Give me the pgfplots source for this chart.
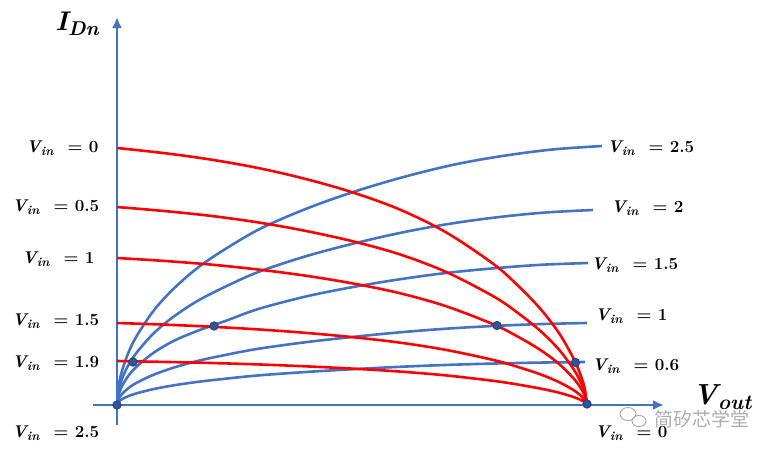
\documentclass[border=0pt]{standalone}
\usepackage{pgfplots}
\pgfplotsset{compat=1.18}
\usetikzlibrary{arrows.meta}
\usepackage{fontspec}
\newfontfamily\cjk{Noto Sans CJK SC}
\definecolor{cblue}{HTML}{4472C4}
\definecolor{cred}{HTML}{FF0000}
\definecolor{dotblue}{HTML}{2F5597}
\definecolor{dotedge}{HTML}{22407A}
\newcommand{\vl}[1]{{\fontsize{17}{19}\selectfont\bfseries\itshape V\raisebox{-0.42ex}{\fontsize{12.5}{13}\selectfont in}\ \ \upshape= #1}}
\begin{document}
\begin{tikzpicture}
\begin{axis}[width=773pt,height=450pt,scale only axis,
  xmin=0,xmax=773,ymin=0,ymax=450,y dir=reverse,
  hide axis, clip=false]
\path (axis cs:0,0) rectangle (axis cs:773,450);
% axes
\addplot[cblue, line width=2.8pt, -{Latex[length=11pt,width=10pt]}] coordinates {(117,425) (117,17)};
\addplot[cblue, line width=2.8pt, -{Latex[length=11pt,width=10pt]}] coordinates {(93,405) (664,405)};
% blue (NMOS) curves
\addplot[cblue, line width=2.6pt, smooth, tension=0.55] coordinates {(117,405) (119.4,381.7) (124.3,363.6) (131.6,345.4) (141.3,328.6) (155.8,307.9) (175.2,287.2) (199.5,266.4) (228.6,247.0) (262.5,227.6) (311,206.9) (359.5,190.0) (408,175.8) (456.5,164.1) (505,155.6) (553.5,149.4) (602,146)};
\addplot[cblue, line width=2.6pt, smooth, tension=0.55] coordinates {(117,405) (119.4,387.5) (124.1,373.8) (131.3,360.2) (140.8,347.5) (155.1,331.9) (174.1,316.3) (197.9,300.7) (226.5,286.1) (259.8,271.4) (307.4,255.8) (355,243.2) (402.6,232.4) (450.2,223.7) (497.8,217.2) (545.4,212.5) (593,210)};
\addplot[cblue, line width=2.6pt, smooth, tension=0.55] coordinates {(117,405) (119.4,392.2) (124.1,382.3) (131.1,372.3) (140.6,363.1) (154.7,352.0) (173.5,341.0) (197.1,331.0) (225.3,321.0) (258.3,309.0) (305.4,296.6) (352.5,287.1) (399.6,279.3) (446.7,272.9) (493.8,268.3) (540.9,264.8) (588,263)};
\addplot[cblue, line width=2.6pt, smooth, tension=0.55] coordinates {(117,405) (119.35,397.6) (124.05,391.9) (131.1,386.1) (140.5,380.8) (154.6,374.3) (173.4,367.7) (196.9,361.1) (225.1,355.0) (258,348.8) (305,342.3) (352,337.0) (399,332.4) (446,328.7) (493,326.0) (540,324.1) (587,323)};
\addplot[cblue, line width=2.6pt, smooth, tension=0.55] coordinates {(117,405) (119.3,401.1) (124,398.1) (131,395.1) (140.4,392.3) (154.4,388.9) (173.2,385.4) (196.6,382.0) (224.6,378.8) (257.4,375.5) (304.2,372.1) (351,369.3) (397.8,366.9) (444.6,365.0) (491.4,363.6) (538.2,362.6) (585,362)};
% red (PMOS) curves
\addplot[cred, line width=2.6pt, smooth, tension=0.55] coordinates {(117,148) (164,153.1) (211,159.6) (258,168.0) (305,178.8) (352,192.2) (399,209.2) (446,232.3) (493,263.65) (516.5,284.2) (540,308.4) (558.8,332.8) (572.9,357.2) (580,373.4) (584.65,388.3) (587,405)};
\addplot[cred, line width=2.6pt, smooth, tension=0.55] coordinates {(117,207) (164,211.0) (211,215.9) (258,222.4) (305,230.8) (352,241.1) (399,254.1) (446,271.9) (493,296.1) (516.5,311.9) (540,330.6) (558.8,349.4) (572.9,368.2) (580,380.6) (584.65,392.1) (587,405)};
\addplot[cred, line width=2.6pt, smooth, tension=0.55] coordinates {(117,258) (164,260.9) (211,264.6) (258,269.5) (305,275.6) (352,283.3) (399,293.0) (446,306.2) (493,324.15) (516.5,335.9) (540,349.7) (558.8,363.7) (572.9,377.7) (580,386.9) (584.65,395.4) (587,405)};
\addplot[cred, line width=2.6pt, smooth, tension=0.55] coordinates {(117,323) (164,324.6) (211,326.7) (258,329.4) (305,332.8) (352,337.1) (399,342.5) (446,349.9) (493,359.9) (516.5,366.5) (540,374.2) (558.8,382.0) (572.9,389.7) (580,394.9) (584.65,399.7) (587,405)};
\addplot[cred, line width=2.6pt, smooth, tension=0.55] coordinates {(117,361) (164,361.9) (211,363.0) (258,364.4) (305,366.3) (352,368.6) (399,371.5) (446,375.4) (493,380.8) (516.5,384.3) (540,388.5) (558.8,392.6) (572.9,396.8) (580,399.6) (584.65,402.1) (587,405)};
% dots
\addplot[only marks, mark=*, mark size=4.2pt, mark options={fill=dotblue, draw=dotedge, line width=0.8pt}] coordinates {(117,405) (133,362) (214,326) (497,325.5) (575.5,362.5) (587,404)};
% labels left
\begin{scope}[every node/.style={inner sep=0pt, anchor=west}]
\node at (axis cs:26,148) {\vl{0}};
\node at (axis cs:12,207) {\vl{0.5}};
\node at (axis cs:22,259) {\vl{1}};
\node at (axis cs:12,321) {\vl{1.5}};
\node at (axis cs:12,363) {\vl{1.9}};
\node at (axis cs:12,433) {\vl{2.5}};
% labels right
\node at (axis cs:607,148) {\vl{2.5}};
\node at (axis cs:611,208) {\vl{2}};
\node at (axis cs:591,265) {\vl{1.5}};
\node at (axis cs:595,316) {\vl{1}};
\node at (axis cs:592,366) {\vl{0.6}};
\node at (axis cs:595,433) {\vl{0}};
\end{scope}
% axis titles
\node at (axis cs:77,24) {\fontsize{27}{29}\selectfont\bfseries\itshape I\raisebox{-0.42ex}{\fontsize{20}{22}\selectfont Dn}};
\node at (axis cs:722,397) {\fontsize{29}{31}\selectfont\bfseries\itshape V\raisebox{-0.42ex}{\fontsize{21}{23}\selectfont out}};
% watermark
\draw[gray!70, line width=0.9pt] (axis cs:628,414) ellipse [x radius=8pt, y radius=6.5pt];
\draw[gray!70, line width=0.9pt, fill=white, fill opacity=0.6] (axis cs:639,421) ellipse [x radius=7pt, y radius=5.5pt];
\node[text=gray!75, opacity=0.85] at (axis cs:702,419) {\cjk\fontsize{19}{21}\selectfont 简矽芯学堂};
\end{axis}
\end{tikzpicture}
\end{document}
